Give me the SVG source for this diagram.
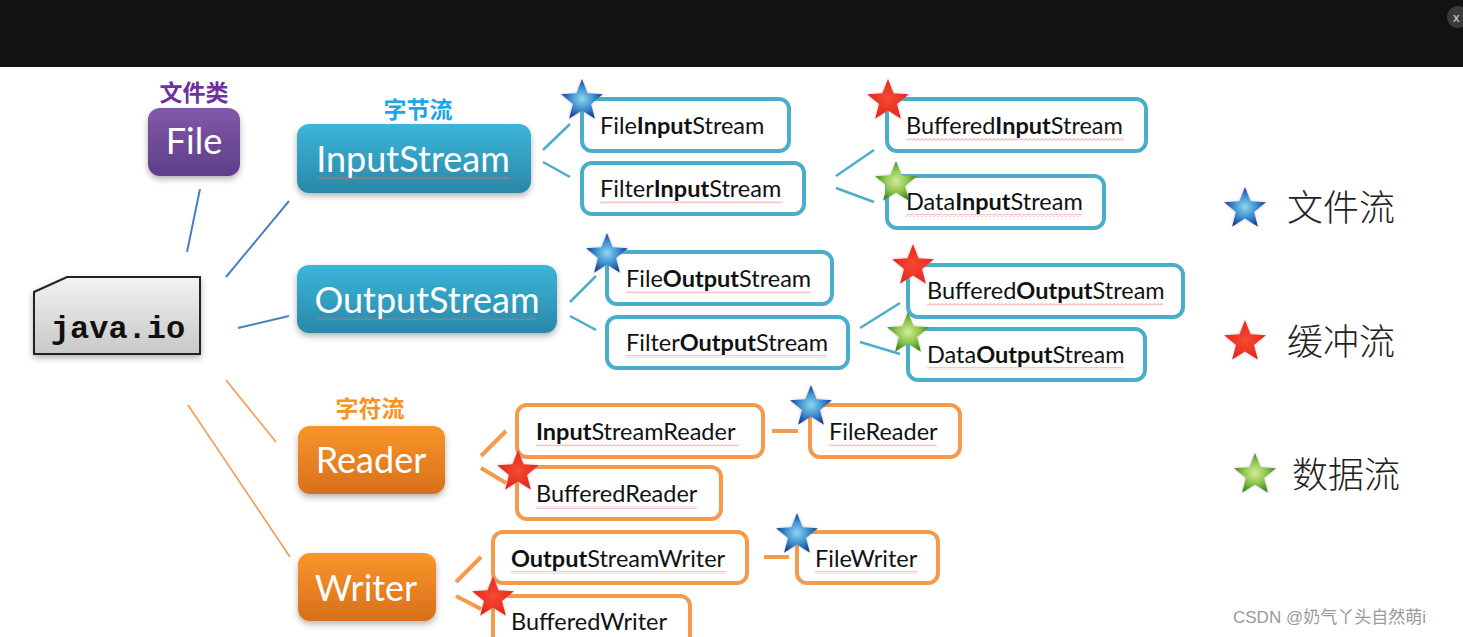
<svg xmlns="http://www.w3.org/2000/svg" width="1463" height="637" viewBox="0 0 1463 637">
<style>
.cb{fill:#fff;stroke:#4aaecb;stroke-width:4}
.ob{fill:#fff;stroke:#f5994a;stroke-width:4}
.t{font-family:Lato,"Open Sans",sans-serif;font-size:23.5px;fill:#111}
.t tspan.b{font-weight:bold}
.big{font-family:Lato,"Open Sans",sans-serif;font-size:36px;fill:#fff;text-anchor:middle}
.lab{font-family:"Noto Sans CJK SC",sans-serif;font-weight:bold;font-size:23px;text-anchor:middle}
.leg{font-family:"Noto Sans CJK SC",sans-serif;font-weight:300;font-size:36px;fill:#222}
.cl{stroke:#4aaecb;stroke-width:2.5;fill:none}
.ol{stroke:#f5994a;stroke-width:4;fill:none}
.bl{stroke:#4a7fc1;stroke-width:2;fill:none}
.wl{stroke:#f59a4f;stroke-width:1.6;fill:none}
.sq{fill:url(#wave)}
</style>
<defs>
<linearGradient id="gBlue" x1="0" y1="0" x2="0" y2="1"><stop offset="0" stop-color="#3cb6d9"/><stop offset="1" stop-color="#2987a8"/></linearGradient>
<linearGradient id="gPurple" x1="0" y1="0" x2="0" y2="1"><stop offset="0" stop-color="#8159a9"/><stop offset="1" stop-color="#5e3e88"/></linearGradient>
<linearGradient id="gOrange" x1="0" y1="0" x2="0" y2="1"><stop offset="0" stop-color="#f8962a"/><stop offset="1" stop-color="#d86f1b"/></linearGradient>
<linearGradient id="gGray" x1="0" y1="0" x2="0" y2="1"><stop offset="0" stop-color="#f2f2f2"/><stop offset="1" stop-color="#c8c8c8"/></linearGradient>
<radialGradient id="sBlue"><stop offset="0" stop-color="#8fd6ee"/><stop offset="0.55" stop-color="#3d8fd0"/><stop offset="1" stop-color="#173f9a"/></radialGradient>
<radialGradient id="sRed"><stop offset="0" stop-color="#f44a32"/><stop offset="1" stop-color="#e8261e"/></radialGradient>
<radialGradient id="sGreen"><stop offset="0" stop-color="#d4ec9a"/><stop offset="0.55" stop-color="#8cc64a"/><stop offset="1" stop-color="#3f8a1c"/></radialGradient>
<filter id="sh" x="-20%" y="-20%" width="140%" height="150%"><feDropShadow dx="0" dy="3" stdDeviation="3" flood-color="#000" flood-opacity="0.3"/></filter>
<filter id="glow" x="-30%" y="-30%" width="160%" height="160%"><feDropShadow dx="0" dy="0" stdDeviation="1.5" flood-color="#999" flood-opacity="0.6"/></filter>
<path id="star" d="M0,-22 L5.58,-7.69 L20.92,-6.8 L9.04,2.94 L12.93,17.8 L0,9.5 L-12.93,17.8 L-9.04,2.94 L-20.92,-6.8 L-5.58,-7.69 Z"/>
<pattern id="wave" width="4" height="3" patternUnits="userSpaceOnUse"><path d="M0,2.5 L2,0.5 L4,2.5" stroke="#f07070" stroke-width="0.8" fill="none"/></pattern>
</defs>
<rect x="0" y="0" width="1463" height="637" fill="#fff"/>
<rect x="0" y="0" width="1463" height="67" fill="#121212"/>
<circle cx="1458" cy="17" r="11" fill="#3a3a3a"/>
<text x="1453" y="22" font-family="Liberation Sans,sans-serif" font-size="13" fill="#ddd">x</text>

<g id="connectors">
<line class="bl" x1="200" y1="189" x2="187" y2="252"/>
<line class="bl" x1="289" y1="201" x2="226" y2="277"/>
<line class="bl" x1="289" y1="316" x2="238" y2="328"/>
<line class="wl" x1="226" y1="380" x2="276" y2="442"/>
<line class="wl" x1="188" y1="405" x2="290" y2="557"/>
<line class="cl" x1="543" y1="150" x2="570" y2="124"/>
<line class="cl" x1="543" y1="162" x2="570" y2="177"/>
<line class="cl" x1="836" y1="176" x2="874" y2="150"/>
<line class="cl" x1="836" y1="188" x2="874" y2="202"/>
<line class="cl" x1="570" y1="302" x2="596" y2="276"/>
<line class="cl" x1="570" y1="316" x2="596" y2="330"/>
<line class="cl" x1="860" y1="328" x2="900" y2="303"/>
<line class="cl" x1="860" y1="342" x2="900" y2="354"/>
<line class="ol" x1="481" y1="456" x2="506" y2="431"/>
<line class="ol" x1="481" y1="468" x2="506" y2="483"/>
<line class="ol" x1="772" y1="431" x2="798" y2="431"/>
<line class="ol" x1="456" y1="582" x2="481" y2="557"/>
<line class="ol" x1="456" y1="596" x2="481" y2="609"/>
<line class="ol" x1="764" y1="557" x2="789" y2="557"/>
</g>

<g id="javaio">
<path d="M34,292 L67,277 L200,277 L200,354 L34,354 Z" fill="url(#gGray)" stroke="#222" stroke-width="2" filter="url(#sh)"/>
<text x="118" y="338" font-family="Liberation Mono,monospace" font-weight="bold" font-size="32" fill="#111" text-anchor="middle">java.io</text>
</g>

<g id="file">
<text class="lab" x="194" y="101" fill="#7030a0">文件类</text>
<rect x="148" y="108" width="92" height="68" rx="12" fill="url(#gPurple)" filter="url(#sh)"/>
<text class="big" x="194" y="154" font-size="33">File</text>
</g>

<g id="inputstream">
<text class="lab" x="418" y="118" fill="#1ba6e6">字节流</text>
<rect x="297" y="124" width="234" height="69" rx="12" fill="url(#gBlue)" filter="url(#sh)"/>
<text class="big" x="413" y="172">InputStream</text>
<rect class="sq" x="318" y="176" width="192" height="3"/>
</g>

<g id="outputstream">
<rect x="297" y="265" width="260" height="68" rx="12" fill="url(#gBlue)" filter="url(#sh)"/>
<text class="big" x="427" y="313">OutputStream</text>
<rect class="sq" x="318" y="317" width="218" height="3"/>
</g>

<g id="reader">
<text class="lab" x="370" y="417" fill="#f7941d">字符流</text>
<rect x="298" y="426" width="147" height="68" rx="12" fill="url(#gOrange)" filter="url(#sh)"/>
<text class="big" x="371" y="473">Reader</text>
</g>

<g id="writer">
<rect x="298" y="553" width="138" height="68" rx="12" fill="url(#gOrange)" filter="url(#sh)"/>
<text class="big" x="366" y="601">Writer</text>
</g>

<g id="fileinputstream">
<rect class="cb" x="582" y="99" width="207" height="52" rx="10"/>
<text class="t" x="600" y="134">File<tspan class="b">Input</tspan>Stream</text>
</g>
<g id="filterinputstream">
<rect class="cb" x="582" y="163" width="222" height="51" rx="10"/>
<text class="t" x="600" y="197">Filter<tspan class="b">Input</tspan>Stream</text>
<rect class="sq" x="600" y="201" width="182" height="3"/>
</g>
<g id="bufferedinputstream">
<rect class="cb" x="887" y="99" width="259" height="52" rx="10"/>
<text class="t" x="906" y="134">Buffered<tspan class="b">Input</tspan>Stream</text>
<rect class="sq" x="906" y="138" width="218" height="3"/>
</g>
<g id="datainputstream">
<rect class="cb" x="887" y="176" width="217" height="52" rx="10"/>
<text class="t" x="906" y="210">Data<tspan class="b">Input</tspan>Stream</text>
<rect class="sq" x="906" y="214" width="176" height="3"/>
</g>
<g id="fileoutputstream">
<rect class="cb" x="607" y="252" width="225" height="52" rx="10"/>
<text class="t" x="626" y="287">File<tspan class="b">Output</tspan>Stream</text>
<rect class="sq" x="626" y="291" width="184" height="3"/>
</g>
<g id="filteroutputstream">
<rect class="cb" x="607" y="317" width="241" height="51" rx="10"/>
<text class="t" x="626" y="351">Filter<tspan class="b">Output</tspan>Stream</text>
<rect class="sq" x="626" y="355" width="201" height="3"/>
</g>
<g id="bufferedoutputstream">
<rect class="cb" x="908" y="265" width="275" height="52" rx="10"/>
<text class="t" x="927" y="299">Buffered<tspan class="b">Output</tspan>Stream</text>
<rect class="sq" x="927" y="303" width="236" height="3"/>
</g>
<g id="dataoutputstream">
<rect class="cb" x="908" y="329" width="237" height="51" rx="10"/>
<text class="t" x="927" y="363">Data<tspan class="b">Output</tspan>Stream</text>
<rect class="sq" x="927" y="367" width="196" height="3"/>
</g>
<g id="inputstreamreader">
<rect class="ob" x="517" y="405" width="246" height="52" rx="10"/>
<text class="t" x="536" y="440"><tspan class="b">Input</tspan>StreamReader</text>
<rect class="sq" x="536" y="444" width="203" height="3"/>
</g>
<g id="filereader">
<rect class="ob" x="810" y="405" width="150" height="52" rx="10"/>
<text class="t" x="829" y="440">FileReader</text>
<rect class="sq" x="829" y="444" width="108" height="3"/>
</g>
<g id="bufferedreader">
<rect class="ob" x="517" y="467" width="204" height="52" rx="10"/>
<text class="t" x="536" y="502">BufferedReader</text>
<rect class="sq" x="536" y="506" width="161" height="3"/>
</g>
<g id="outputstreamwriter">
<rect class="ob" x="493" y="532" width="254" height="51" rx="10"/>
<text class="t" x="511" y="567"><tspan class="b">Output</tspan>StreamWriter</text>
<rect class="sq" x="511" y="571" width="215" height="3"/>
</g>
<g id="filewriter">
<rect class="ob" x="797" y="532" width="141" height="51" rx="10"/>
<text class="t" x="815" y="567">FileWriter</text>
<rect class="sq" x="815" y="571" width="102" height="3"/>
</g>
<g id="bufferedwriter">
<rect class="ob" x="493" y="596" width="197" height="60" rx="10"/>
<text class="t" x="511" y="630">BufferedWriter</text>
</g>

<g id="stars" filter="url(#glow)">
<use href="#star" x="582" y="101" fill="url(#sBlue)"/>
<use href="#star" x="888" y="101" fill="url(#sRed)"/>
<use href="#star" x="896" y="183" fill="url(#sGreen)"/>
<use href="#star" x="607" y="255" fill="url(#sBlue)"/>
<use href="#star" x="913" y="266" fill="url(#sRed)"/>
<use href="#star" x="908" y="334" fill="url(#sGreen)"/>
<use href="#star" x="811" y="407" fill="url(#sBlue)"/>
<use href="#star" x="518" y="472" fill="url(#sRed)"/>
<use href="#star" x="797" y="535" fill="url(#sBlue)"/>
<use href="#star" x="493" y="598" fill="url(#sRed)"/>
</g>

<g id="legend">
<use href="#star" x="1245" y="209" fill="url(#sBlue)" filter="url(#glow)"/>
<text class="leg" x="1287" y="221">文件流</text>
<use href="#star" x="1245" y="342" fill="url(#sRed)" filter="url(#glow)"/>
<text class="leg" x="1287" y="355">缓冲流</text>
<use href="#star" x="1255" y="475" fill="url(#sGreen)" filter="url(#glow)"/>
<text class="leg" x="1292" y="488">数据流</text>
</g>

<text x="1233" y="623" font-family="Liberation Sans,'Noto Sans CJK SC',sans-serif" font-size="17" fill="#999">CSDN @奶气丫头自然萌i</text>
</svg>
